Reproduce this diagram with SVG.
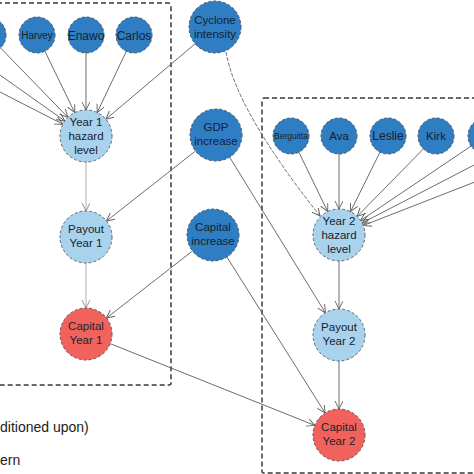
<svg xmlns="http://www.w3.org/2000/svg" width="474" height="474" viewBox="0 0 474 474">
<style>
.box{fill:none;stroke:#3a3a3a;stroke-width:1.5;stroke-dasharray:5,3}
.dk{fill:#2f7dc3;stroke:#4a5968;stroke-width:1;stroke-dasharray:3,2}
.lt{fill:#a9d2ec;stroke:#5a6a78;stroke-width:1;stroke-dasharray:3,2}
.rd{fill:#f2625d;stroke:#6a5050;stroke-width:1;stroke-dasharray:3,2}
text{font-family:"Liberation Sans",Arial,sans-serif;fill:#17222e;text-anchor:middle}
.e{fill:none;stroke:#5c5c5c;stroke-width:0.9;marker-end:url(#a)}
.el{fill:none;stroke:#a8a8a8;stroke-width:0.9;marker-end:url(#al)}
.lg{font-size:14px;text-anchor:start;fill:#222}
</style>
<defs>
<marker id="a" markerWidth="10" markerHeight="10" refX="8" refY="4" orient="auto" markerUnits="userSpaceOnUse"><path d="M0,0 L8,4 L0,8" fill="none" stroke="#5c5c5c" stroke-width="0.9"/></marker>
<marker id="al" markerWidth="10" markerHeight="10" refX="8" refY="4" orient="auto" markerUnits="userSpaceOnUse"><path d="M0,0 L8,4 L0,8" fill="none" stroke="#8a8a8a" stroke-width="0.9"/></marker>
</defs>
<rect class="box" x="-5" y="3" width="176" height="382" rx="2"/>
<rect class="box" x="262" y="98" width="220" height="375" rx="2"/>
<g id="connectors">
<line class="e" x1="0.5" y1="47.9" x2="67.9" y2="117.3"/>
<line class="e" x1="-5" y1="71.5" x2="64.8" y2="121"/>
<line class="e" x1="-5" y1="89.5" x2="62.9" y2="124.2"/>
<line class="e" x1="44.9" y1="51.2" x2="74.7" y2="112.6"/>
<line class="e" x1="86" y1="53" x2="86" y2="110"/>
<line class="e" x1="126.3" y1="51.3" x2="97.2" y2="112.5"/>
<line class="e" x1="195.1" y1="43.8" x2="105.9" y2="119.2"/>
<line class="el" x1="86" y1="162" x2="86" y2="211"/>
<line class="e" x1="195.5" y1="151" x2="106.5" y2="221"/>
<line class="el" x1="86" y1="263" x2="86" y2="308"/>
<line class="e" x1="192.5" y1="251" x2="106.5" y2="318"/>
<line class="e" x1="110.1" y1="343.6" x2="314.8" y2="425.4"/>
<path class="e" d="M226,52 Q236,110 320,216" stroke-dasharray="4,1.5"/>
<line class="e" x1="229.6" y1="157.1" x2="325.4" y2="312.8"/>
<line class="e" x1="226.9" y1="257" x2="325.1" y2="413"/>
<line class="e" x1="298.9" y1="152.2" x2="327.7" y2="211.6"/>
<line class="e" x1="339" y1="154" x2="339" y2="209"/>
<line class="e" x1="380" y1="152.1" x2="350.5" y2="211.7"/>
<line class="e" x1="423.4" y1="148.9" x2="357.2" y2="216.4"/>
<line class="e" x1="471.1" y1="146.1" x2="360.6" y2="220.5"/>
<line class="e" x1="480" y1="162" x2="362.1" y2="223"/>
<line class="e" x1="480" y1="180" x2="363.2" y2="225.5"/>
<line class="e" x1="339" y1="261" x2="339" y2="309"/>
<line class="e" x1="339" y1="361" x2="339" y2="409"/>
</g>
<g id="n-left0"><circle class="dk" cx="-12" cy="35" r="18"/></g>
<g id="n-harvey"><circle class="dk" cx="37" cy="35" r="18"/><text x="37" y="38.5" font-size="10">Harvey</text></g>
<g id="n-enawo"><circle class="dk" cx="86" cy="35" r="18"/><text x="86" y="39.5" font-size="12">Enawo</text></g>
<g id="n-carlos"><circle class="dk" cx="134" cy="35" r="18"/><text x="134" y="39.5" font-size="12">Carlos</text></g>
<g id="n-cyclone"><circle class="dk" cx="215" cy="27" r="26"/><text x="215" y="24" font-size="11.5">Cyclone</text><text x="215" y="38" font-size="11.5">intensity</text></g>
<g id="n-h1"><circle class="lt" cx="86" cy="136" r="26"/><text x="86" y="126" font-size="11.5">Year 1</text><text x="86" y="140" font-size="11.5">hazard</text><text x="86" y="154" font-size="11.5">level</text></g>
<g id="n-gdp"><circle class="dk" cx="216" cy="135" r="26"/><text x="216" y="131" font-size="11.5">GDP</text><text x="216" y="145" font-size="11.5">increase</text></g>
<g id="n-p1"><circle class="lt" cx="86" cy="237" r="26"/><text x="86" y="233" font-size="11.5">Payout</text><text x="86" y="247" font-size="11.5">Year 1</text></g>
<g id="n-capinc"><circle class="dk" cx="213" cy="235" r="26"/><text x="213" y="231" font-size="11.5">Capital</text><text x="213" y="245" font-size="11.5">increase</text></g>
<g id="n-c1"><circle class="rd" cx="86" cy="334" r="26"/><text x="86" y="330" font-size="11.5">Capital</text><text x="86" y="344" font-size="11.5">Year 1</text></g>
<g id="n-berguitta"><circle class="dk" cx="291" cy="136" r="18"/><text x="291" y="139" font-size="8.5">Berguitta</text></g>
<g id="n-ava"><circle class="dk" cx="339" cy="136" r="18"/><text x="339" y="140" font-size="11.5">Ava</text></g>
<g id="n-leslie"><circle class="dk" cx="388" cy="136" r="18"/><text x="388" y="140" font-size="12">Leslie</text></g>
<g id="n-kirk"><circle class="dk" cx="436" cy="136" r="18"/><text x="436" y="140" font-size="11.5">Kirk</text></g>
<g id="n-right0"><circle class="dk" cx="486" cy="136" r="18"/></g>
<g id="n-h2"><circle class="lt" cx="339" cy="235" r="26"/><text x="339" y="225" font-size="11.5">Year 2</text><text x="339" y="239" font-size="11.5">hazard</text><text x="339" y="253" font-size="11.5">level</text></g>
<g id="n-p2"><circle class="lt" cx="339" cy="335" r="26"/><text x="339" y="331" font-size="11.5">Payout</text><text x="339" y="345" font-size="11.5">Year 2</text></g>
<g id="n-c2"><circle class="rd" cx="339" cy="435" r="26"/><text x="339" y="431" font-size="11.5">Capital</text><text x="339" y="445" font-size="11.5">Year 2</text></g>
<text class="lg" x="0" y="432">ditioned upon)</text>
<text class="lg" x="0" y="465">ern</text>
</svg>
